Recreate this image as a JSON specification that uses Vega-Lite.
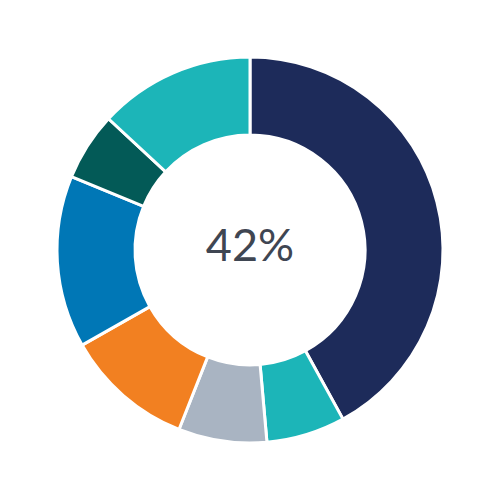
{
  "$schema": "https://vega.github.io/schema/vega-lite/v6.json",
  "width": 500,
  "height": 500,
  "padding": 0,
  "autosize": {"type": "fit", "contains": "padding"},
  "background": "white",
  "config": {"view": {"stroke": null}},
  "layer": [
    {
      "data": {
        "values": [
          {"segment": "A", "order": 1, "value": 42.0},
          {"segment": "B", "order": 2, "value": 6.6},
          {"segment": "C", "order": 3, "value": 7.4},
          {"segment": "D", "order": 4, "value": 10.8},
          {"segment": "E", "order": 5, "value": 14.4},
          {"segment": "F", "order": 6, "value": 5.7},
          {"segment": "G", "order": 7, "value": 13.1}
        ]
      },
      "mark": {"type": "arc", "outerRadius": 193, "innerRadius": 115, "stroke": "white", "strokeWidth": 3},
      "encoding": {
        "theta": {"field": "value", "type": "quantitative", "stack": true},
        "order": {"field": "order", "type": "quantitative"},
        "color": {
          "field": "segment",
          "type": "nominal",
          "legend": null,
          "scale": {
            "domain": ["A", "B", "C", "D", "E", "F", "G"],
            "range": ["#1d2b5a", "#1cb5b8", "#a9b4c2", "#f28021", "#0077b6", "#035a57", "#1cb5b8"]
          }
        }
      }
    },
    {
      "data": {"values": [{"label": "42%"}]},
      "mark": {"type": "text", "font": "Lato", "fontSize": 45, "color": "#3f4652", "align": "center", "baseline": "middle", "dy": -3},
      "encoding": {"text": {"field": "label"}}
    }
  ]
}
